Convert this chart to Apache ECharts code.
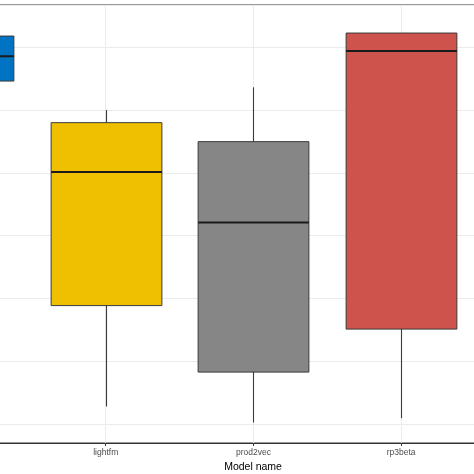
<!DOCTYPE html>
<html>
<head>
<meta charset="utf-8">
<script src="https://cdn.jsdelivr.net/npm/echarts@6/dist/echarts.min.js"></script>
<style>
  html, body { margin: 0; padding: 0; background: #fff; }
  #main { width: 474px; height: 474px; }
</style>
</head>
<body>
<div id="main"></div>
<script>
// models, left to right (the first one is cut off by the crop)
var models = ['als', 'lightfm', 'prod2vec', 'rp3beta'];
var boxColors = ['#0073C2', '#EFC000', '#868686', '#CD534C'];
// five number summary per model
var whiskerLow = [0.455, 0.2141, 0.2014, 0.2049];
var q1 = [0.4730, 0.2944, 0.2415, 0.2757];
var median = [0.4928, 0.4007, 0.3604, 0.4969];
var q3 = [0.5088, 0.4399, 0.4248, 0.5112];
var whiskerHigh = [0.525, 0.4500, 0.4680, 0.5112];

var yMin = 0.1851;
var yMax = 0.5335;

var rows = models.map(function (m, i) {
  return [i + 1, whiskerLow[i], q1[i], median[i], q3[i], whiskerHigh[i]];
});

var chart = echarts.init(document.getElementById('main'));

function renderBox(params, api) {
  var x = api.value(0);
  var idx = params.dataIndex;
  var w = api.size([1, 0])[0] * 0.75;
  var pLo = api.coord([x, api.value(1)]);
  var pQ1 = api.coord([x, api.value(2)]);
  var pMed = api.coord([x, api.value(3)]);
  var pQ3 = api.coord([x, api.value(4)]);
  var pHi = api.coord([x, api.value(5)]);
  var cx = Math.round(pMed[0]) + 0.5;
  var line = { stroke: '#3a3a3a', lineWidth: 1.1 };
  return {
    type: 'group',
    children: [
      { type: 'line', shape: { x1: cx, y1: pHi[1], x2: cx, y2: pQ3[1] }, style: line },
      { type: 'line', shape: { x1: cx, y1: pQ1[1], x2: cx, y2: pLo[1] }, style: line },
      {
        type: 'rect',
        shape: { x: cx - w / 2, y: pQ3[1], width: w, height: pQ1[1] - pQ3[1] },
        style: { fill: boxColors[idx], stroke: '#3a3a3a', lineWidth: 1 }
      },
      {
        type: 'line',
        shape: { x1: cx - w / 2, y1: pMed[1], x2: cx + w / 2, y2: pMed[1] },
        style: { stroke: '#1a1a1a', lineWidth: 2 }
      }
    ]
  };
}

var option = {
  animation: false,
  backgroundColor: '#fff',
  grid: {
    left: -130.6,
    right: -15.7,
    top: 5,
    bottom: 31,
    containLabel: false,
    outerBoundsMode: 'none',
    show: true,
    borderColor: '#333',
    borderWidth: 1,
    backgroundColor: 'transparent'
  },
  xAxis: {
    type: 'value',
    min: 0.4,
    max: 4.6,
    splitNumber: 4,
    name: 'Model name',
    nameLocation: 'middle',
    nameGap: 16,
    nameTextStyle: {
      fontFamily: 'Liberation Sans',
      fontSize: 10.5,
      color: '#000',
      padding: [0, 0, 0, 147]
    },
    axisLine: { show: true, lineStyle: { color: '#333', width: 1 } },
    axisTick: { show: true, length: 3, lineStyle: { color: '#333' } },
    axisLabel: {
      margin: 5,
      fontFamily: 'Liberation Sans',
      fontSize: 8.5,
      color: '#4d4d4d',
      showMinLabel: false,
      showMaxLabel: false,
      formatter: function (v) {
        return Number.isInteger(v) ? (models[v - 1] || '') : '';
      }
    },
    splitLine: { show: true, lineStyle: { color: '#ebebeb', width: 1 } }
  },
  yAxis: {
    type: 'value',
    min: yMin,
    max: yMax,
    splitNumber: 7,
    axisLine: { show: false },
    axisTick: { show: false },
    axisLabel: { show: false },
    splitLine: { show: true, lineStyle: { color: '#ebebeb', width: 1 } }
  },
  series: [{
    type: 'custom',
    renderItem: renderBox,
    encode: { x: 0, y: [1, 2, 3, 4, 5] },
    data: rows
  }]
};

chart.setOption(option);
</script>
</body>
</html>
